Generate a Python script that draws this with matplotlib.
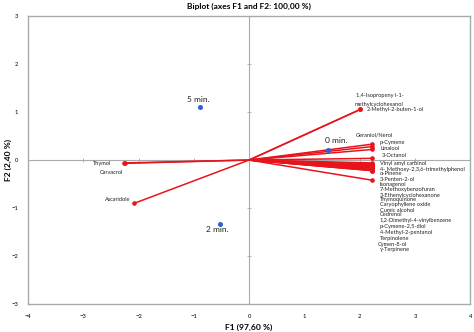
import matplotlib
matplotlib.use("Agg")
import matplotlib.pyplot as plt
import numpy as np

plt.rcParams["font.family"] = ["Lato", "DejaVu Sans"]

# Variables (red loading vectors)
VAR_NAMES = [
    "1,4-Isopropeny l-1-methylcyclohexanol",
    "2-Methyl-2-buten-1-ol",
    "Geraniol/Nerol",
    "p-Cymene",
    "Linalool",
    "3-Octanol",
    "Vinyl amyl carbinol",
    "4- Methoxy-2,3,6-trimethylphenol",
    "α-Pinene",
    "3-Penten-2-ol",
    "Isonagenol",
    "7-Methoxybenzofuran",
    "3-Ethenylcyclohexanone",
    "Thymoquinone",
    "Caryophyllene oxide",
    "Cumic alcohol",
    "Cedrenol",
    "1,2-Dimethyl-4-vinylbenzene",
    "p-Cymene-2,5-diol",
    "4-Methyl-2-pentanol",
    "Terpinolene",
    "Cymen-8-ol",
    "γ-Terpinene",
    "Thymol",
    "Carvacrol",
    "Ascaridole",
]
VAR_F1 = [2.01, 2.01, 2.23, 2.23, 2.23, 2.23, 2.23, 2.23, 2.23, 2.23,
          2.23, 2.23, 2.23, 2.23, 2.23, 2.23, 2.23, 2.23, 2.23, 2.23,
          2.23, 2.23, 2.23, -2.27, -2.25, -2.08]
VAR_F2 = [1.05, 1.05, 0.33, 0.28, 0.22, 0.035, -0.06, -0.08, -0.10, -0.42,
          -0.11, -0.12, -0.13, -0.14, -0.15, -0.16, -0.17, -0.18, -0.19, -0.20,
          -0.21, -0.22, -0.22, -0.07, -0.06, -0.90]

# Observations (blue points)
OBS_NAMES = ["0 min.", "2 min.", "5 min."]
OBS_F1 = [1.42, -0.52, -0.89]
OBS_F2 = [0.21, -1.33, 1.10]

# label placement for the variable names (left aligned anchors)
LABEL_XY = {
    "1,4-Isopropeny l-1-methylcyclohexanol": (1.93, 1.34),
    "2-Methyl-2-buten-1-ol": (2.12, 1.04),
    "Geraniol/Nerol": (1.93, 0.52),
    "p-Cymene": (2.37, 0.37),
    "Linalool": (2.37, 0.24),
    "3-Octanol": (2.39, 0.085),
    "Vinyl amyl carbinol": (2.36, -0.07),
    "4- Methoxy-2,3,6-trimethylphenol": (2.36, -0.195),
    "α-Pinene": (2.36, -0.29),
    "3-Penten-2-ol": (2.36, -0.4),
    "Isonagenol": (2.36, -0.5),
    "7-Methoxybenzofuran": (2.36, -0.61),
    "3-Ethenylcyclohexanone": (2.36, -0.73),
    "Thymoquinone": (2.36, -0.82),
    "Caryophyllene oxide": (2.36, -0.93),
    "Cumic alcohol": (2.36, -1.04),
    "Cedrenol": (2.36, -1.13),
    "1,2-Dimethyl-4-vinylbenzene": (2.36, -1.26),
    "p-Cymene-2,5-diol": (2.36, -1.38),
    "4-Methyl-2-pentanol": (2.36, -1.51),
    "Terpinolene": (2.36, -1.63),
    "Cymen-8-ol": (2.33, -1.75),
    "γ-Terpinene": (2.36, -1.86),
    "Thymol": (-2.82, -0.07),
    "Carvacrol": (-2.7, -0.26),
    "Ascaridole": (-2.6, -0.82),
}
OBS_LABEL_XY = {
    "0 min.": (1.57, 0.40),
    "2 min.": (-0.58, -1.45),
    "5 min.": (-0.91, 1.25),
}

fig = plt.figure(figsize=(4.74, 3.32), dpi=100)
ax = fig.add_axes([0.059, 0.083, 0.933, 0.870])

ax.set_xlim(-4, 4)
ax.set_ylim(-3, 3)
for s in ax.spines.values():
    s.set_color("#aaaaaa")
    s.set_linewidth(1.0)

xt = np.arange(-4, 5)
yt = np.arange(-3, 4)
ax.set_xticks(xt)
ax.set_yticks(yt)
ax.tick_params(length=0, labelsize=4.2, pad=7)

# zero lines with small tick marks
ax.axhline(0, color="#aaaaaa", lw=0.8, zorder=1)
ax.axvline(0, color="#aaaaaa", lw=0.8, zorder=1)
ax.plot(xt, np.zeros_like(xt), ls="none", marker="|", ms=3, color="#aaaaaa", mew=0.6, zorder=1)
ax.plot(np.zeros_like(yt), yt, ls="none", marker="_", ms=3, color="#aaaaaa", mew=0.6, zorder=1)

red = "#e8141c"
lab_fs = 4.1
for name, fx, fy in zip(VAR_NAMES, VAR_F1, VAR_F2):
    ax.plot([0, fx], [0, fy], color=red, lw=1.1, zorder=2)
    ax.plot(fx, fy, "o", color=red, ms=2.3, zorder=3)
    tx, ty = LABEL_XY[name]
    if name.startswith("1,4-"):
        ax.text(tx, ty, "1,4-Isopropeny l-1-", fontsize=lab_fs,
                ha="left", va="center", color="#222222")
        ax.text(tx - 0.02, ty - 0.19, "methylcyclohexanol", fontsize=lab_fs,
                ha="left", va="center", color="#222222")
    else:
        ax.text(tx, ty, name, fontsize=lab_fs, ha="left", va="center", color="#222222")

ax.plot(OBS_F1, OBS_F2, "o", color="#2e5fd6", ms=2.6, zorder=4)
for name in OBS_NAMES:
    tx, ty = OBS_LABEL_XY[name]
    ax.text(tx, ty, name, fontsize=6.0, ha="center", va="center", color="#222222")

ax.set_xlabel("F1 (97,60 %)", fontsize=6.1, fontweight="bold", labelpad=3)
ax.set_ylabel("F2 (2,40 %)", fontsize=6.1, fontweight="bold")
ax.yaxis.set_label_coords(-0.036, 0.5)
ax.set_title("Biplot (axes F1 and F2: 100,00 %)", fontsize=6.0, fontweight="bold", pad=5)

fig.savefig("out.png", dpi=100)
